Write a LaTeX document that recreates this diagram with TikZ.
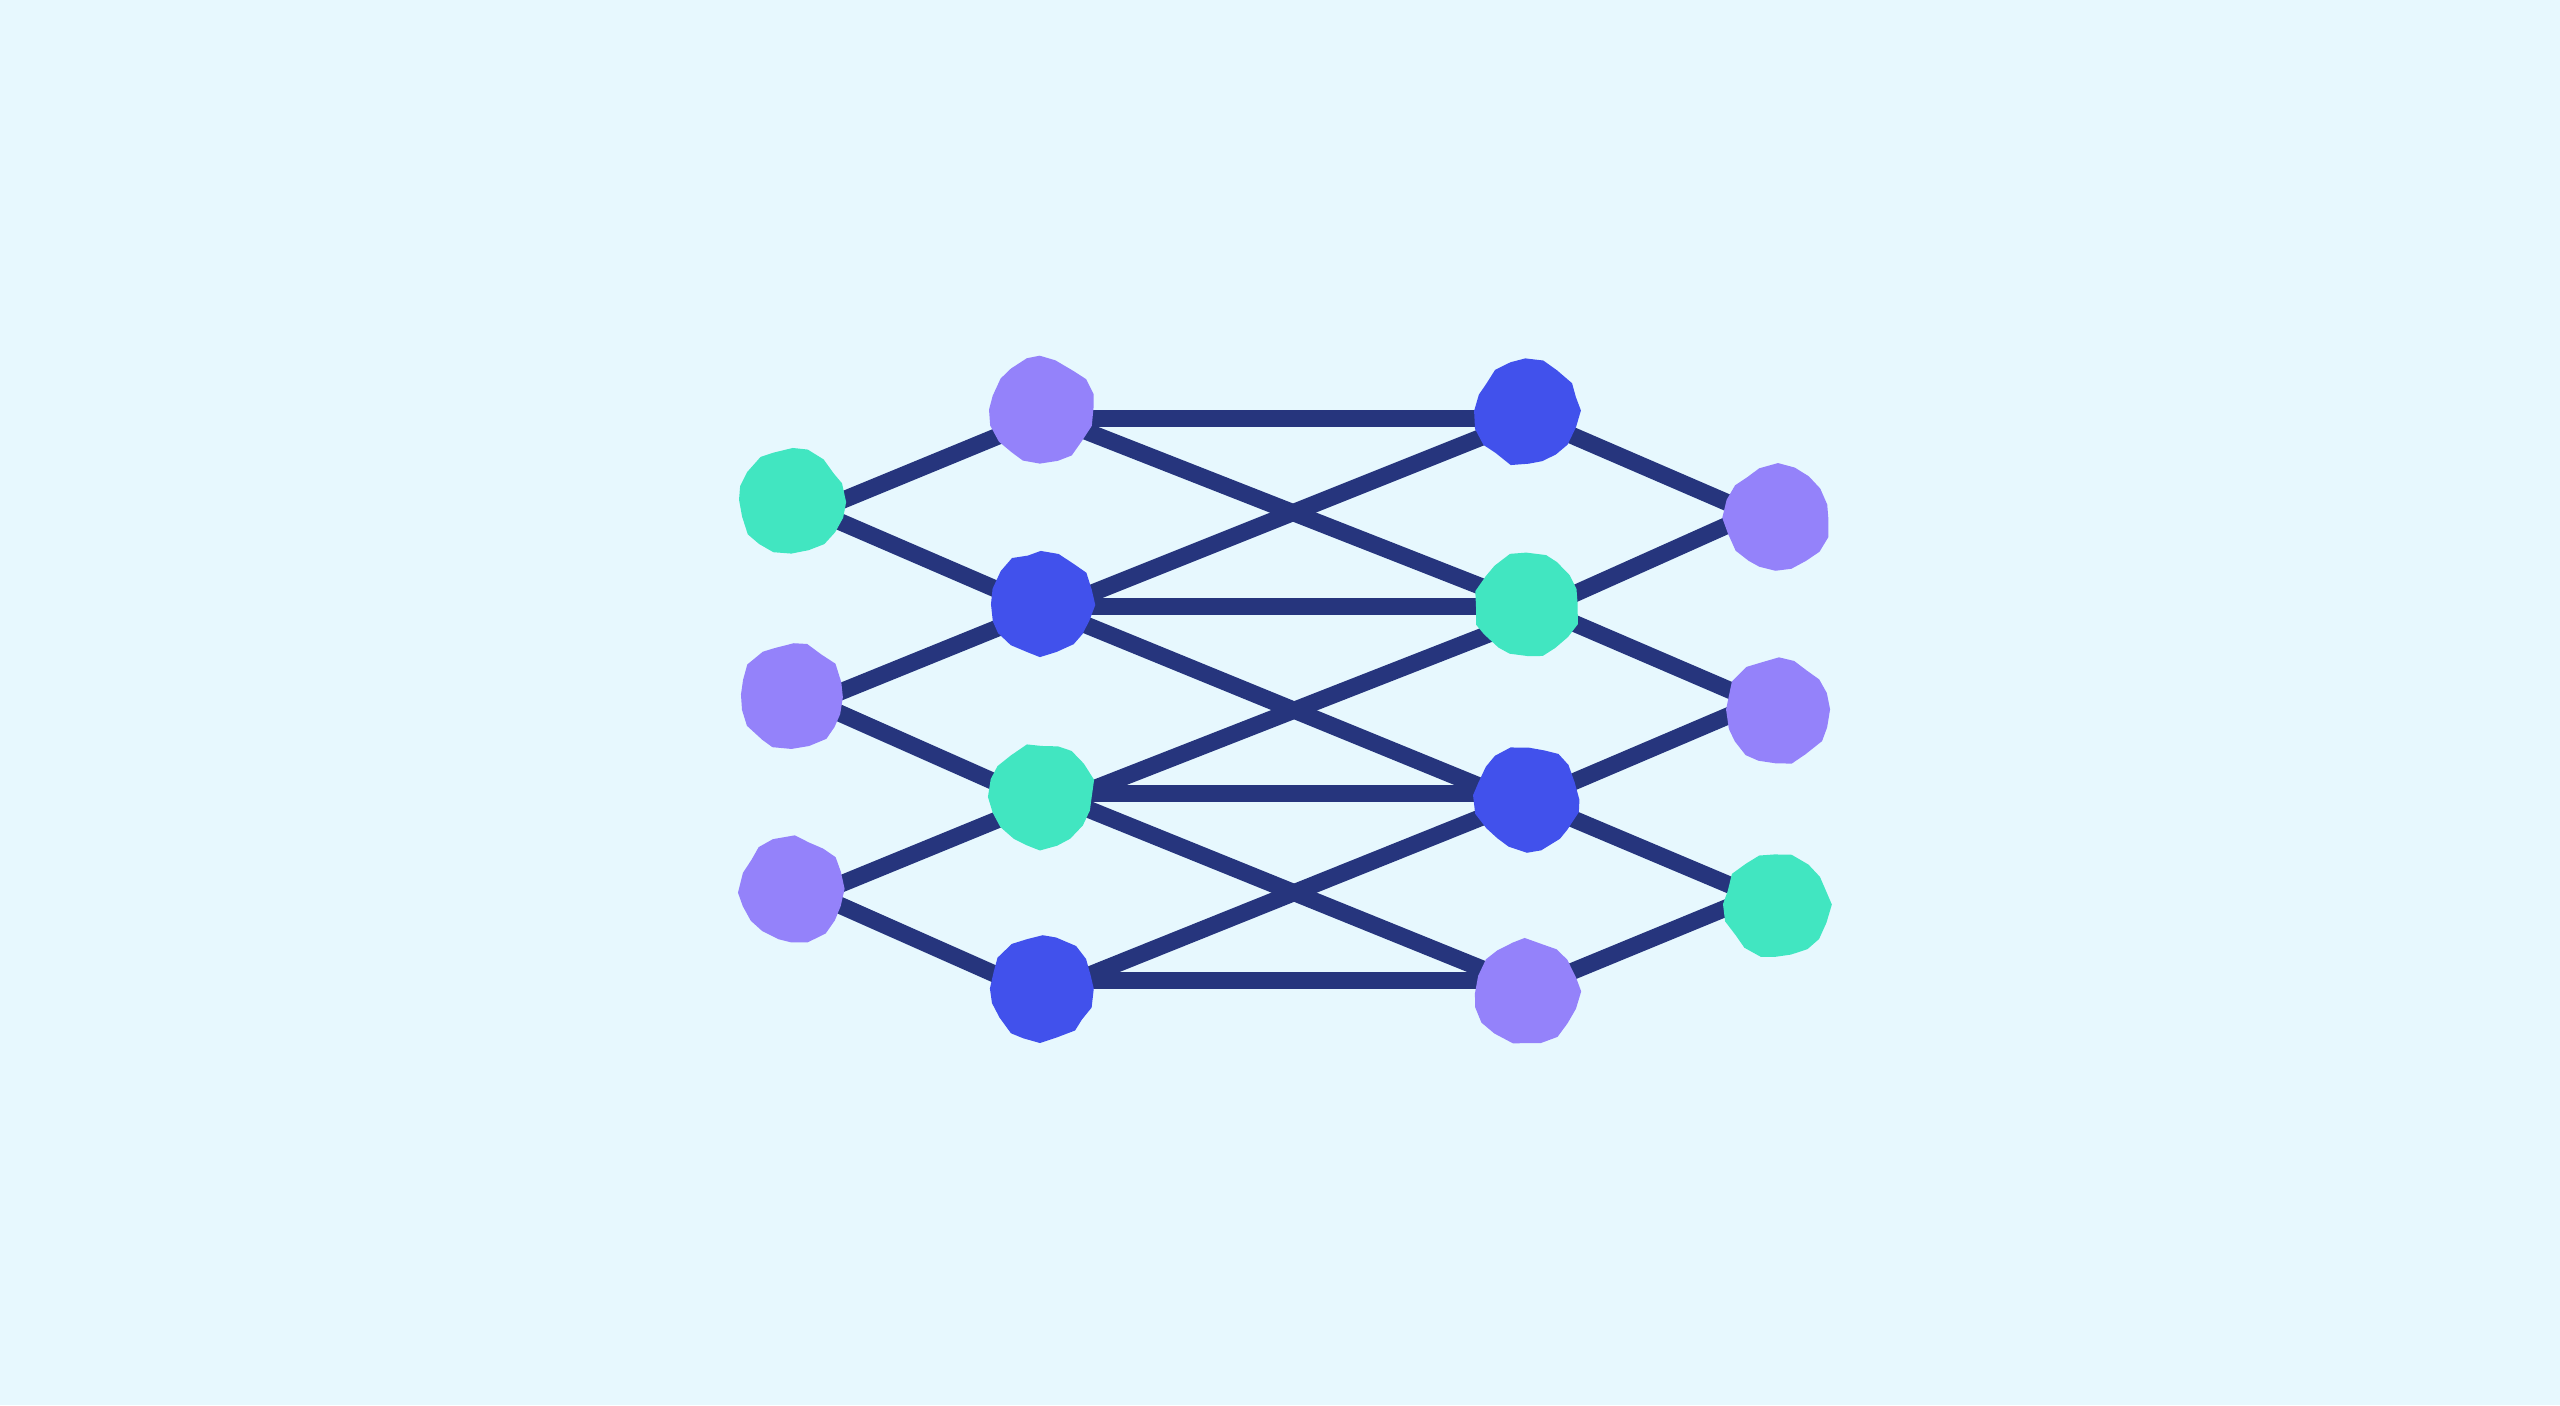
\documentclass[tikz,border=0pt]{standalone}
\usetikzlibrary{calc}
\definecolor{bgc}{HTML}{E7F8FE}
\definecolor{edgec}{HTML}{26357D}
\definecolor{purp}{HTML}{9482FA}
\definecolor{mint}{HTML}{41E6C1}
\definecolor{royal}{HTML}{4151EC}
\tikzset{
  link/.style={draw=edgec, line width=0.17cm, line cap=butt},
}
\newcommand{\drawblob}[3]{%
  \pgfmathsetseed{#3}%
  \foreach \i in {0,...,19}{%
    \pgfmathsetmacro\rr{52.5+2.5*rand}%
    \pgfmathsetmacro\aa{\i*18+3*rand}%
    \coordinate (#1-p\i) at ($(#1)+(\aa:\rr)$);%
  }%
  \fill[#2] (#1-p0) \foreach \i in {1,...,19}{ -- (#1-p\i) } -- cycle;%
}
\begin{document}
\begin{tikzpicture}[x=0.01cm, y=-0.01cm]
\useasboundingbox (0,0) rectangle (2560,1405);
\fill[bgc] (0,0) rectangle (2560,1405);
% node centres
\coordinate (L1) at (792,502);
\coordinate (L2) at (792,696);
\coordinate (L3) at (792,890);
\coordinate (Ca) at (1042,410);
\coordinate (Cb) at (1042,604);
\coordinate (Cc) at (1042,796);
\coordinate (Cd) at (1042,989);
\coordinate (Da) at (1527,413);
\coordinate (Db) at (1527,606);
\coordinate (Dc) at (1527,798);
\coordinate (Dd) at (1527,992);
\coordinate (R1) at (1777,518);
\coordinate (R2) at (1777,711);
\coordinate (R3) at (1777,905);
% left links
\draw[link] ($(L1)+(0,19)$) -- ($(Ca)+(0,8)$);
\draw[link] ($(L1)+(0,-1)$) -- ($(Cb)+(0,5)$);
\draw[link] ($(L2)+(0,15.5)$) -- ($(Cb)+(0,6)$);
\draw[link] ($(L2)+(0,-4)$) -- ($(Cc)+(0,7)$);
\draw[link] ($(L3)+(0,14)$) -- ($(Cc)+(0,5.5)$);
\draw[link] ($(L3)+(0,-6)$) -- ($(Cd)+(0,6)$);
% middle horizontal links
\draw[link] ($(Ca)+(0,8)$) -- ($(Da)+(0,5)$);
\draw[link] ($(Cb)+(0,2)$) -- ($(Db)+(0,0)$);
\draw[link] ($(Cc)+(0,-2.5)$) -- ($(Dc)+(0,-4.5)$);
\draw[link] ($(Cd)+(0,-9)$) -- ($(Dd)+(0,-12)$);
% middle crossing links
\draw[link] ($(Ca)+(0,4)$) -- ($(Db)+(0,-1.5)$);
\draw[link] ($(Cb)+(0,9)$) -- ($(Da)+(0,6)$);
\draw[link] ($(Cb)+(0,3)$) -- ($(Dc)+(0,7.5)$);
\draw[link] ($(Cc)+(0,13)$) -- ($(Db)+(0,13)$);
\draw[link] ($(Cc)+(0,-5.5)$) -- ($(Dd)+(0,-5)$);
\draw[link] ($(Cd)+(0,5)$) -- ($(Dc)+(0,1)$);
% right links
\draw[link] ($(Da)+(0,3)$) -- ($(R1)+(0,6)$);
\draw[link] ($(Db)+(0,9)$) -- ($(R1)+(0,-15)$);
\draw[link] ($(Db)+(0,-3)$) -- ($(R2)+(0,-0.5)$);
\draw[link] ($(Dc)+(0,3.6)$) -- ($(R2)+(0,-16)$);
\draw[link] ($(Dc)+(0,1.5)$) -- ($(R3)+(0,0)$);
\draw[link] ($(Dd)+(0,-2)$) -- ($(R3)+(0,-18)$);
% blobs
\drawblob{L1}{mint}{11}
\drawblob{L2}{purp}{12}
\drawblob{L3}{purp}{13}
\drawblob{Ca}{purp}{21}
\drawblob{Cb}{royal}{22}
\drawblob{Cc}{mint}{23}
\drawblob{Cd}{royal}{24}
\drawblob{Da}{royal}{31}
\drawblob{Db}{mint}{32}
\drawblob{Dc}{royal}{33}
\drawblob{Dd}{purp}{34}
\drawblob{R1}{purp}{41}
\drawblob{R2}{purp}{42}
\drawblob{R3}{mint}{43}
\end{tikzpicture}
\end{document}
